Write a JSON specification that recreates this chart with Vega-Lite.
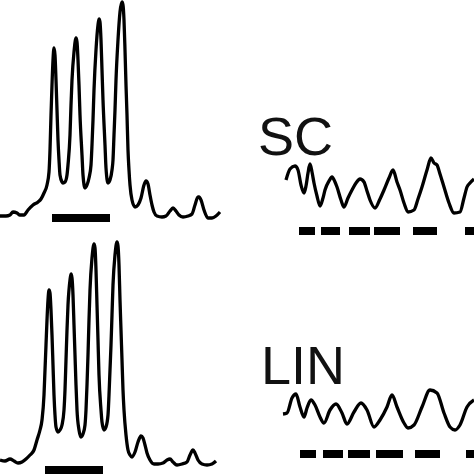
{
  "$schema": "https://vega.github.io/schema/vega-lite/v6.json",
  "width": 474,
  "height": 474,
  "autosize": {"type": "fit", "contains": "padding"},
  "padding": 0,
  "background": "white",
  "config": {"view": {"stroke": null}},
  "datasets": {
    "traces": [
      {"trace": "A", "x": 0, "y": 216}, {"trace": "A", "x": 6, "y": 216}, {"trace": "A", "x": 10, "y": 215}, {"trace": "A", "x": 13, "y": 212}, {"trace": "A", "x": 17, "y": 213}, {"trace": "A", "x": 20, "y": 215}, {"trace": "A", "x": 24, "y": 215}, {"trace": "A", "x": 28, "y": 210}, {"trace": "A", "x": 33, "y": 205}, {"trace": "A", "x": 38, "y": 202}, {"trace": "A", "x": 41, "y": 199}, {"trace": "A", "x": 44, "y": 193}, {"trace": "A", "x": 47, "y": 185}, {"trace": "A", "x": 49, "y": 172}, {"trace": "A", "x": 50, "y": 150}, {"trace": "A", "x": 51, "y": 115}, {"trace": "A", "x": 52, "y": 85}, {"trace": "A", "x": 53, "y": 60}, {"trace": "A", "x": 54, "y": 48}, {"trace": "A", "x": 55, "y": 55}, {"trace": "A", "x": 56, "y": 80}, {"trace": "A", "x": 57, "y": 110}, {"trace": "A", "x": 58, "y": 140}, {"trace": "A", "x": 59, "y": 160}, {"trace": "A", "x": 60, "y": 175}, {"trace": "A", "x": 62, "y": 182}, {"trace": "A", "x": 63, "y": 183}, {"trace": "A", "x": 65, "y": 182}, {"trace": "A", "x": 67, "y": 175}, {"trace": "A", "x": 68, "y": 165}, {"trace": "A", "x": 70, "y": 135}, {"trace": "A", "x": 71, "y": 105}, {"trace": "A", "x": 72, "y": 80}, {"trace": "A", "x": 74, "y": 52}, {"trace": "A", "x": 76, "y": 38}, {"trace": "A", "x": 77, "y": 42}, {"trace": "A", "x": 78, "y": 60}, {"trace": "A", "x": 79, "y": 85}, {"trace": "A", "x": 80, "y": 115}, {"trace": "A", "x": 82, "y": 155}, {"trace": "A", "x": 83, "y": 175}, {"trace": "A", "x": 85, "y": 188}, {"trace": "A", "x": 87, "y": 185}, {"trace": "A", "x": 89, "y": 178}, {"trace": "A", "x": 91, "y": 165}, {"trace": "A", "x": 92, "y": 145}, {"trace": "A", "x": 93, "y": 120}, {"trace": "A", "x": 94, "y": 90}, {"trace": "A", "x": 96, "y": 50}, {"trace": "A", "x": 98, "y": 25}, {"trace": "A", "x": 99, "y": 19}, {"trace": "A", "x": 100, "y": 22}, {"trace": "A", "x": 101, "y": 40}, {"trace": "A", "x": 102, "y": 70}, {"trace": "A", "x": 103, "y": 100}, {"trace": "A", "x": 105, "y": 145}, {"trace": "A", "x": 106, "y": 168}, {"trace": "A", "x": 108, "y": 183}, {"trace": "A", "x": 110, "y": 180}, {"trace": "A", "x": 112, "y": 170}, {"trace": "A", "x": 113, "y": 160}, {"trace": "A", "x": 114, "y": 135}, {"trace": "A", "x": 115, "y": 110}, {"trace": "A", "x": 116, "y": 80}, {"trace": "A", "x": 118, "y": 40}, {"trace": "A", "x": 120, "y": 12}, {"trace": "A", "x": 122, "y": 2}, {"trace": "A", "x": 123, "y": 5}, {"trace": "A", "x": 124, "y": 20}, {"trace": "A", "x": 125, "y": 50}, {"trace": "A", "x": 126, "y": 85}, {"trace": "A", "x": 127, "y": 115}, {"trace": "A", "x": 128, "y": 150}, {"trace": "A", "x": 129, "y": 170}, {"trace": "A", "x": 130, "y": 185}, {"trace": "A", "x": 132, "y": 200}, {"trace": "A", "x": 135, "y": 207}, {"trace": "A", "x": 138, "y": 205}, {"trace": "A", "x": 141, "y": 198}, {"trace": "A", "x": 144, "y": 185}, {"trace": "A", "x": 146, "y": 181}, {"trace": "A", "x": 148, "y": 184}, {"trace": "A", "x": 150, "y": 195}, {"trace": "A", "x": 152, "y": 205}, {"trace": "A", "x": 154, "y": 212}, {"trace": "A", "x": 157, "y": 216}, {"trace": "A", "x": 162, "y": 217}, {"trace": "A", "x": 166, "y": 216}, {"trace": "A", "x": 170, "y": 211}, {"trace": "A", "x": 173, "y": 208}, {"trace": "A", "x": 176, "y": 211}, {"trace": "A", "x": 179, "y": 215}, {"trace": "A", "x": 183, "y": 217}, {"trace": "A", "x": 188, "y": 216}, {"trace": "A", "x": 192, "y": 214}, {"trace": "A", "x": 195, "y": 205}, {"trace": "A", "x": 198, "y": 197}, {"trace": "A", "x": 199, "y": 197}, {"trace": "A", "x": 201, "y": 200}, {"trace": "A", "x": 204, "y": 210}, {"trace": "A", "x": 208, "y": 218}, {"trace": "A", "x": 212, "y": 218}, {"trace": "A", "x": 216, "y": 216}, {"trace": "A", "x": 220, "y": 212},

      {"trace": "B", "x": 0, "y": 460}, {"trace": "B", "x": 5, "y": 461}, {"trace": "B", "x": 10, "y": 459}, {"trace": "B", "x": 14, "y": 461}, {"trace": "B", "x": 18, "y": 463}, {"trace": "B", "x": 22, "y": 462}, {"trace": "B", "x": 26, "y": 459}, {"trace": "B", "x": 30, "y": 455}, {"trace": "B", "x": 34, "y": 450}, {"trace": "B", "x": 37, "y": 440}, {"trace": "B", "x": 40, "y": 430}, {"trace": "B", "x": 42, "y": 420}, {"trace": "B", "x": 44, "y": 395}, {"trace": "B", "x": 45, "y": 370}, {"trace": "B", "x": 46, "y": 345}, {"trace": "B", "x": 47, "y": 320}, {"trace": "B", "x": 48, "y": 300}, {"trace": "B", "x": 49, "y": 290}, {"trace": "B", "x": 50, "y": 293}, {"trace": "B", "x": 51, "y": 310}, {"trace": "B", "x": 52, "y": 335}, {"trace": "B", "x": 53, "y": 365}, {"trace": "B", "x": 54, "y": 395}, {"trace": "B", "x": 55, "y": 415}, {"trace": "B", "x": 56, "y": 427}, {"trace": "B", "x": 58, "y": 432}, {"trace": "B", "x": 60, "y": 430}, {"trace": "B", "x": 62, "y": 425}, {"trace": "B", "x": 64, "y": 410}, {"trace": "B", "x": 65, "y": 390}, {"trace": "B", "x": 66, "y": 360}, {"trace": "B", "x": 67, "y": 330}, {"trace": "B", "x": 68, "y": 305}, {"trace": "B", "x": 70, "y": 280}, {"trace": "B", "x": 71, "y": 274}, {"trace": "B", "x": 72, "y": 278}, {"trace": "B", "x": 73, "y": 295}, {"trace": "B", "x": 74, "y": 325}, {"trace": "B", "x": 75, "y": 355}, {"trace": "B", "x": 76, "y": 385}, {"trace": "B", "x": 77, "y": 410}, {"trace": "B", "x": 79, "y": 430}, {"trace": "B", "x": 81, "y": 437}, {"trace": "B", "x": 83, "y": 434}, {"trace": "B", "x": 85, "y": 425}, {"trace": "B", "x": 86, "y": 410}, {"trace": "B", "x": 87, "y": 385}, {"trace": "B", "x": 88, "y": 355}, {"trace": "B", "x": 89, "y": 320}, {"trace": "B", "x": 90, "y": 290}, {"trace": "B", "x": 92, "y": 258}, {"trace": "B", "x": 94, "y": 244}, {"trace": "B", "x": 95, "y": 248}, {"trace": "B", "x": 96, "y": 270}, {"trace": "B", "x": 97, "y": 305}, {"trace": "B", "x": 98, "y": 340}, {"trace": "B", "x": 99, "y": 375}, {"trace": "B", "x": 101, "y": 410}, {"trace": "B", "x": 102, "y": 422}, {"trace": "B", "x": 104, "y": 430}, {"trace": "B", "x": 106, "y": 427}, {"trace": "B", "x": 108, "y": 415}, {"trace": "B", "x": 109, "y": 395}, {"trace": "B", "x": 110, "y": 370}, {"trace": "B", "x": 111, "y": 345}, {"trace": "B", "x": 112, "y": 315}, {"trace": "B", "x": 113, "y": 285}, {"trace": "B", "x": 115, "y": 255}, {"trace": "B", "x": 117, "y": 242}, {"trace": "B", "x": 118, "y": 246}, {"trace": "B", "x": 119, "y": 265}, {"trace": "B", "x": 120, "y": 300}, {"trace": "B", "x": 121, "y": 330}, {"trace": "B", "x": 122, "y": 360}, {"trace": "B", "x": 123, "y": 390}, {"trace": "B", "x": 124, "y": 410}, {"trace": "B", "x": 126, "y": 435}, {"trace": "B", "x": 128, "y": 450}, {"trace": "B", "x": 130, "y": 455}, {"trace": "B", "x": 132, "y": 457}, {"trace": "B", "x": 135, "y": 452}, {"trace": "B", "x": 138, "y": 442}, {"trace": "B", "x": 141, "y": 436}, {"trace": "B", "x": 143, "y": 438}, {"trace": "B", "x": 145, "y": 445}, {"trace": "B", "x": 147, "y": 453}, {"trace": "B", "x": 150, "y": 460}, {"trace": "B", "x": 154, "y": 464}, {"trace": "B", "x": 158, "y": 464}, {"trace": "B", "x": 163, "y": 463}, {"trace": "B", "x": 167, "y": 460}, {"trace": "B", "x": 170, "y": 459}, {"trace": "B", "x": 173, "y": 462}, {"trace": "B", "x": 177, "y": 465}, {"trace": "B", "x": 182, "y": 464}, {"trace": "B", "x": 187, "y": 462}, {"trace": "B", "x": 190, "y": 455}, {"trace": "B", "x": 193, "y": 450}, {"trace": "B", "x": 195, "y": 453}, {"trace": "B", "x": 198, "y": 460}, {"trace": "B", "x": 202, "y": 464}, {"trace": "B", "x": 207, "y": 465}, {"trace": "B", "x": 212, "y": 464}, {"trace": "B", "x": 216, "y": 461},

      {"trace": "SC", "x": 286, "y": 180}, {"trace": "SC", "x": 290, "y": 169}, {"trace": "SC", "x": 295, "y": 166}, {"trace": "SC", "x": 298, "y": 170}, {"trace": "SC", "x": 301, "y": 185}, {"trace": "SC", "x": 304, "y": 193}, {"trace": "SC", "x": 306, "y": 186}, {"trace": "SC", "x": 308, "y": 173}, {"trace": "SC", "x": 310, "y": 164}, {"trace": "SC", "x": 312, "y": 172}, {"trace": "SC", "x": 314, "y": 183}, {"trace": "SC", "x": 317, "y": 196}, {"trace": "SC", "x": 320, "y": 206}, {"trace": "SC", "x": 323, "y": 198}, {"trace": "SC", "x": 325, "y": 190}, {"trace": "SC", "x": 329, "y": 181}, {"trace": "SC", "x": 332, "y": 177}, {"trace": "SC", "x": 335, "y": 182}, {"trace": "SC", "x": 337, "y": 187}, {"trace": "SC", "x": 341, "y": 200}, {"trace": "SC", "x": 344, "y": 207}, {"trace": "SC", "x": 348, "y": 198}, {"trace": "SC", "x": 352, "y": 190}, {"trace": "SC", "x": 356, "y": 183}, {"trace": "SC", "x": 360, "y": 179}, {"trace": "SC", "x": 364, "y": 182}, {"trace": "SC", "x": 367, "y": 191}, {"trace": "SC", "x": 370, "y": 200}, {"trace": "SC", "x": 375, "y": 208}, {"trace": "SC", "x": 380, "y": 199}, {"trace": "SC", "x": 384, "y": 190}, {"trace": "SC", "x": 389, "y": 178}, {"trace": "SC", "x": 393, "y": 170}, {"trace": "SC", "x": 397, "y": 182}, {"trace": "SC", "x": 400, "y": 190}, {"trace": "SC", "x": 404, "y": 203}, {"trace": "SC", "x": 408, "y": 212}, {"trace": "SC", "x": 414, "y": 210}, {"trace": "SC", "x": 418, "y": 199}, {"trace": "SC", "x": 422, "y": 187}, {"trace": "SC", "x": 427, "y": 170}, {"trace": "SC", "x": 431, "y": 158}, {"trace": "SC", "x": 434, "y": 163}, {"trace": "SC", "x": 437, "y": 165}, {"trace": "SC", "x": 440, "y": 174}, {"trace": "SC", "x": 444, "y": 187}, {"trace": "SC", "x": 449, "y": 203}, {"trace": "SC", "x": 454, "y": 213}, {"trace": "SC", "x": 460, "y": 212}, {"trace": "SC", "x": 464, "y": 198}, {"trace": "SC", "x": 467, "y": 187}, {"trace": "SC", "x": 470, "y": 183}, {"trace": "SC", "x": 474, "y": 179},

      {"trace": "LIN", "x": 283, "y": 414}, {"trace": "LIN", "x": 287, "y": 413}, {"trace": "LIN", "x": 292, "y": 398}, {"trace": "LIN", "x": 296, "y": 394}, {"trace": "LIN", "x": 300, "y": 407}, {"trace": "LIN", "x": 304, "y": 417}, {"trace": "LIN", "x": 307, "y": 408}, {"trace": "LIN", "x": 311, "y": 400}, {"trace": "LIN", "x": 315, "y": 405}, {"trace": "LIN", "x": 320, "y": 417}, {"trace": "LIN", "x": 324, "y": 423}, {"trace": "LIN", "x": 330, "y": 410}, {"trace": "LIN", "x": 336, "y": 404}, {"trace": "LIN", "x": 342, "y": 413}, {"trace": "LIN", "x": 347, "y": 424}, {"trace": "LIN", "x": 354, "y": 412}, {"trace": "LIN", "x": 361, "y": 403}, {"trace": "LIN", "x": 367, "y": 410}, {"trace": "LIN", "x": 374, "y": 427}, {"trace": "LIN", "x": 380, "y": 420}, {"trace": "LIN", "x": 387, "y": 407}, {"trace": "LIN", "x": 392, "y": 395}, {"trace": "LIN", "x": 397, "y": 407}, {"trace": "LIN", "x": 404, "y": 423}, {"trace": "LIN", "x": 408, "y": 428}, {"trace": "LIN", "x": 414, "y": 425}, {"trace": "LIN", "x": 422, "y": 407}, {"trace": "LIN", "x": 430, "y": 390}, {"trace": "LIN", "x": 437, "y": 393}, {"trace": "LIN", "x": 444, "y": 413}, {"trace": "LIN", "x": 450, "y": 427}, {"trace": "LIN", "x": 455, "y": 430}, {"trace": "LIN", "x": 460, "y": 425}, {"trace": "LIN", "x": 467, "y": 407}, {"trace": "LIN", "x": 474, "y": 400}
    ],
    "bars": [
      {"x1": 52, "x2": 110, "y1": 214, "y2": 222},
      {"x1": 45, "x2": 103, "y1": 466, "y2": 474},
      {"x1": 299, "x2": 315, "y1": 227, "y2": 235},
      {"x1": 321, "x2": 340, "y1": 227, "y2": 235},
      {"x1": 349, "x2": 370, "y1": 227, "y2": 235},
      {"x1": 374, "x2": 400, "y1": 227, "y2": 235},
      {"x1": 413, "x2": 437, "y1": 227, "y2": 235},
      {"x1": 465, "x2": 474, "y1": 227, "y2": 235},
      {"x1": 300, "x2": 316, "y1": 450, "y2": 458},
      {"x1": 323, "x2": 343, "y1": 450, "y2": 458},
      {"x1": 348, "x2": 370, "y1": 450, "y2": 458},
      {"x1": 376, "x2": 403, "y1": 450, "y2": 458},
      {"x1": 415, "x2": 440, "y1": 450, "y2": 458},
      {"x1": 466, "x2": 474, "y1": 450, "y2": 458}
    ],
    "labels": [
      {"label": "SC", "x": 258, "y": 155},
      {"label": "LIN", "x": 261, "y": 384}
    ]
  },
  "layer": [
    {
      "data": {"name": "traces"},
      "mark": {"type": "line", "color": "black", "strokeWidth": 3.3, "strokeJoin": "round", "interpolate": "monotone", "clip": true},
      "encoding": {
        "x": {"field": "x", "type": "quantitative", "scale": {"domain": [0, 474], "nice": false, "zero": false}, "axis": null},
        "y": {"field": "y", "type": "quantitative", "scale": {"domain": [474, 0], "nice": false, "zero": false}, "axis": null},
        "detail": {"field": "trace", "type": "nominal"}
      }
    },
    {
      "data": {"name": "bars"},
      "mark": {"type": "rect", "color": "black", "clip": true},
      "encoding": {
        "x": {"field": "x1", "type": "quantitative"},
        "x2": {"field": "x2"},
        "y": {"field": "y1", "type": "quantitative"},
        "y2": {"field": "y2"}
      }
    },
    {
      "data": {"name": "labels"},
      "mark": {"type": "text", "font": "Liberation Sans", "fontSize": 54, "align": "left", "baseline": "alphabetic", "color": "#111"},
      "encoding": {
        "x": {"field": "x", "type": "quantitative"},
        "y": {"field": "y", "type": "quantitative"},
        "text": {"field": "label", "type": "nominal"}
      }
    }
  ]
}
